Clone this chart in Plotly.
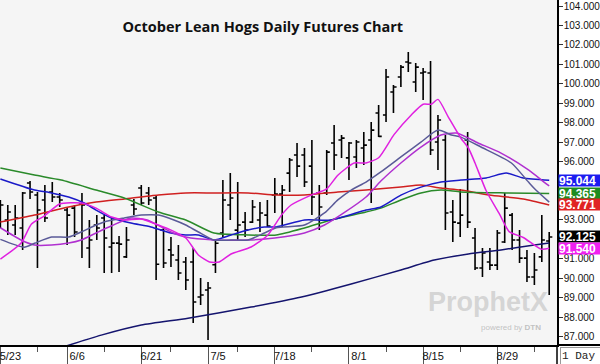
import plotly.graph_objects as go

# ---- data -------------------------------------------------------------
day_index = list(range(75))
opens = [93.25, 93.00, 92.74, 92.59, 94.90, 94.28, 94.03, 94.44, 94.18, 93.51,
         93.61, 93.82, 91.56, 92.74, 93.10, 91.61, 91.81, 91.10, 93.77, 94.64,
         94.39, 94.13, 92.48, 91.46, 90.94, 90.84, 90.84, 89.04, 89.40, 90.70,
         92.33, 93.77, 92.48, 92.89, 92.89, 93.00, 93.25, 94.28, 94.33, 95.41,
         96.34, 96.34, 95.77, 94.39, 94.39, 96.96, 97.11, 96.19, 96.24, 96.70,
         97.11, 98.50, 98.40, 99.58, 100.35, 101.12, 100.09, 100.56, 100.56, 97.01,
         97.11, 93.41, 92.84, 97.11, 92.07, 90.53, 90.84, 90.68, 91.87, 93.25,
         91.97, 91.04, 90.07, 91.10, 91.92]
highs = [94.03, 93.77, 93.77, 94.44, 95.00, 94.44, 94.80, 94.95, 94.39, 93.67,
         93.77, 94.39, 93.00, 93.25, 93.25, 93.15, 92.17, 92.64, 94.08, 94.80,
         94.69, 94.28, 92.64, 92.12, 91.71, 91.10, 91.56, 90.02, 89.81, 91.97,
         95.05, 95.41, 94.95, 93.41, 94.03, 93.92, 94.03, 95.16, 94.80, 96.19,
         96.96, 96.70, 97.11, 94.80, 96.60, 97.88, 97.37, 97.01, 97.11, 97.52,
         98.04, 98.91, 100.76, 99.94, 100.97, 101.63, 101.07, 100.81, 101.17, 98.40,
         97.37, 94.03, 94.59, 97.52, 92.59, 91.56, 91.56, 92.48, 94.39, 93.36,
         92.48, 91.46, 91.30, 93.25, 92.38]
lows = [92.59, 92.23, 92.23, 91.46, 94.08, 90.53, 92.89, 93.92, 93.67, 91.71,
        92.12, 91.04, 90.53, 91.97, 90.27, 90.27, 90.32, 91.04, 93.25, 93.77,
        93.77, 89.91, 90.53, 90.58, 89.91, 89.40, 87.70, 88.63, 86.83, 90.27,
        92.12, 93.00, 91.97, 92.12, 92.84, 92.38, 92.64, 93.36, 92.64, 94.44,
        95.21, 94.69, 93.25, 92.48, 94.28, 95.57, 96.19, 95.05, 95.67, 95.83,
        93.87, 97.26, 98.04, 98.50, 99.84, 100.61, 99.58, 99.17, 96.34, 95.57,
        92.48, 91.87, 92.12, 92.59, 90.43, 90.07, 90.43, 90.43, 91.81, 91.46,
        90.79, 89.81, 89.66, 90.84, 89.14]
closes = [93.77, 93.41, 93.10, 94.39, 94.44, 93.51, 93.10, 94.18, 94.03, 93.25,
          92.38, 93.77, 91.97, 92.59, 92.07, 91.81, 91.76, 91.97, 93.56, 93.87,
          94.03, 90.72, 90.79, 91.20, 90.27, 89.91, 88.78, 89.14, 89.50, 91.80,
          94.03, 94.13, 92.74, 92.48, 93.67, 93.36, 92.69, 94.33, 94.54, 96.08,
          95.77, 94.95, 94.18, 93.67, 96.49, 96.34, 97.21, 96.96, 97.01, 96.85,
          97.62, 97.30, 100.35, 99.84, 100.86, 101.07, 100.86, 100.61, 96.60, 98.14,
          93.36, 92.89, 93.25, 92.89, 90.53, 91.30, 90.68, 92.33, 93.61, 91.97,
          91.04, 90.07, 90.43, 91.97, 92.125]

date_tick_index = [0, 9, 19, 28, 37, 47, 57, 67]
date_tick_labels = ["5/23", "6/6", "6/21", "7/5", "7/18", "8/1", "8/15", "8/29"]
week_tick_index = [5, 14, 23, 32, 42, 52, 62, 72]

# price labels visible on the axis (95, 94, 92 are hidden behind value boxes)
price_ticks = [87, 88, 89, 90, 91, 93, 96, 97, 98, 99, 100, 101, 102, 103, 104]
price_tick_labels = ["%.3f" % v for v in price_ticks]

# moving-average lines (x = trading-day index)
fast_x = [0, 2.8, 4.2, 5.9, 8, 10.9, 12.9, 15, 16.7, 19, 21.3, 23, 25, 26.7, 28.2, 29.5,
          31.1, 33.8, 36, 37.9, 39.2, 41.9, 44, 45.5, 47.7, 49.3, 51, 53.1, 55.4, 57,
          58.1, 59, 60.4, 62.1, 63.1, 64, 65.5, 67.3, 68.6, 70.5, 72.9, 74]
fast_y = [90.99, 91.82, 92.79, 93.2, 93.82, 93.87, 93.61, 93.15, 93.0, 93.05, 92.74,
          92.48, 92.07, 91.2, 90.84, 90.84, 91.25, 91.61, 92.2, 93.25, 93.77, 94.28,
          94.6, 95.3, 95.93, 95.93, 96.2, 97.4, 98.4, 98.95, 98.95, 99.2, 98.29, 97.2,
          96.7, 95.93, 94.5, 93.3, 92.4, 92.1, 91.5, 91.54]
slate_x = [0, 3.2, 4.6, 6.9, 9.2, 10.9, 12.9, 14, 16.7, 19, 21.3, 23.4, 25, 26.7, 28.8,
           31.1, 33.4, 35.6, 37.2, 41, 43.7, 45.5, 47.3, 49.3, 51.3, 54, 56.7, 59, 60.8,
           62.1, 64.8, 68.9, 71.2, 72.2, 74]
slate_y = [92.0, 91.6, 91.8, 92.12, 92.12, 92.38, 92.74, 92.9, 93.1, 93.25, 93.25, 93.0,
           92.74, 92.38, 91.97, 91.97, 91.97, 92.33, 92.6, 92.74, 93.36, 94.03, 94.54,
           94.95, 95.47, 96.24, 97.0, 97.62, 97.37, 97.26, 96.75, 95.93, 94.95, 94.54, 93.92]
purple_x = [0, 2.8, 4.6, 6.9, 9.2, 10.9, 12.9, 15, 17.6, 19.8, 23, 25, 28.8, 33.4, 37,
            41, 43.7, 46.3, 49.3, 51.3, 54, 56.7, 59.4, 61.5, 64.4, 67.5, 71.2, 73.3, 74]
purple_y = [92.6, 91.97, 91.71, 91.71, 91.81, 91.97, 92.33, 92.7, 93.1, 93.0, 92.38,
            92.12, 91.97, 91.97, 92.07, 92.33, 92.74, 93.36, 94.18, 95.0, 95.93, 96.75,
            97.37, 97.47, 96.96, 96.44, 95.57, 94.95, 94.75]
blue_x = [0, 4.6, 6.9, 9.2, 11.3, 12.9, 15, 17.6, 20.3, 23, 25, 26.7, 28.8, 31.1, 33.4,
          35.6, 37.2, 41, 44.6, 49.3, 51.3, 54, 56.7, 59.4, 62.1, 65.5, 68.2, 70.5, 74]
blue_y = [95.11, 94.54, 94.39, 94.18, 93.87, 93.51, 93.10, 92.84, 92.64, 92.33, 92.23,
          92.23, 91.97, 92.23, 92.48, 92.64, 92.64, 93.0, 93.0, 93.51, 93.67, 94.28,
          94.69, 94.95, 95.05, 95.16, 95.41, 95.16, 95.044]
green_x = [0, 4.6, 8.2, 12.9, 16.7, 21.3, 25, 28.8, 33.4, 37.2, 41, 44.6, 49.3, 51.3,
           54, 56.7, 59.4, 62.1, 68.2, 74]
green_y = [95.67, 95.31, 95.05, 94.54, 94.13, 93.41, 93.0, 92.33, 92.23, 92.23, 92.59,
           93.0, 93.41, 93.61, 94.03, 94.39, 94.54, 94.44, 94.39, 94.365]
red_x = [0, 4.6, 9.2, 12.9, 16.7, 21.3, 25, 28.8, 33.4, 37.2, 41, 45.5, 49.3, 54, 56.7,
         59.4, 62.1, 65.9, 70.5, 74]
red_y = [92.89, 93.25, 93.67, 93.92, 94.08, 94.28, 94.39, 94.39, 94.39, 94.28, 94.28,
         94.44, 94.54, 94.69, 94.8, 94.64, 94.54, 94.28, 94.08, 93.771]
navy_x = [8.3, 13.6, 19, 25.3, 33.8, 40.6, 47.3, 54, 58.5, 63.1, 67.5, 72, 74]
navy_y = [86.45, 87.08, 87.6, 87.95, 88.52, 89.04, 89.71, 90.43, 90.94, 91.25, 91.46,
          91.71, 91.81]

last_values = [95.044, 94.365, 93.771, 92.125, 91.540]
last_colors = ["#1c1cf0", "#1e8c1e", "#e02424", "#000000", "#f020f0"]

# ---- figure -----------------------------------------------------------
fig = go.Figure()

lines = [
    (navy_x, navy_y, "#14146e"),
    (red_x, red_y, "#d02020"),
    (green_x, green_y, "#2a8a2a"),
    (blue_x, blue_y, "#1a1ac8"),
    (purple_x, purple_y, "#b030d0"),
    (slate_x, slate_y, "#5a5a98"),
    (fast_x, fast_y, "#e020e0"),
]
for xs, ys, col in lines:
    fig.add_trace(go.Scatter(x=xs, y=ys, mode="lines",
                             line=dict(color=col, width=1.5, shape="spline", smoothing=0.6),
                             hoverinfo="skip", showlegend=False))

fig.add_trace(go.Ohlc(x=day_index, open=opens, high=highs, low=lows, close=closes,
                      increasing=dict(line=dict(color="black", width=1.6)),
                      decreasing=dict(line=dict(color="black", width=1.6)),
                      tickwidth=0.42, hoverinfo="skip", showlegend=False))

fig.update_layout(
    width=600, height=364,
    margin=dict(l=0, r=43, t=0, b=19),
    paper_bgcolor="white",
    plot_bgcolor="#f5f5f5",
    showlegend=False,
    font=dict(family="Liberation Sans, Arial, sans-serif", color="#111111"),
    title=dict(text="<b>October Lean Hogs Daily Futures Chart</b>",
               x=0.438, xanchor="center", y=0.926, yanchor="middle",
               font=dict(family="Open Sans, sans-serif", size=14.5, color="#111111")),
)

fig.update_xaxes(
    automargin=False,
    range=[-0.05, 75.05], rangeslider=dict(visible=False),
    showgrid=False, zeroline=False,
    showline=True, linecolor="black", linewidth=2,
    tickmode="array", tickvals=date_tick_index, ticktext=date_tick_labels,
    ticks="outside", ticklen=19, tickwidth=1, tickcolor="#555555",
    ticklabelshift=10, ticklabelstandoff=-19, ticklabeloverflow="allow",
    tickfont=dict(size=11, color="#111111"),
    minor=dict(tickmode="array", tickvals=week_tick_index, ticks="outside",
               ticklen=5, tickwidth=1, tickcolor="#555555", showgrid=False),
)
fig.update_yaxes(
    automargin=False,
    side="right", range=[86.571, 104.31],
    showgrid=False, zeroline=False,
    showline=True, linecolor="black", linewidth=1.5,
    tickmode="array", tickvals=price_ticks, ticktext=price_tick_labels,
    ticks="outside", ticklen=4, tickcolor="#333333",
    ticklabeloverflow="allow", ticklabelstandoff=-1,
    tickfont=dict(size=10, color="#111111"),
)

for v, c in zip(last_values, last_colors):
    fig.add_annotation(x=1, xref="paper", y=v, yref="y", xanchor="left", yanchor="middle",
                       xshift=1, text="<b>%.3f</b>" % v, showarrow=False,
                       bgcolor=c, width=44, height=11, borderpad=0, align="left",
                       font=dict(size=12, color="white", family="Liberation Sans, Arial"))

# "1 Day" box and watermark
fig.add_annotation(x=1, xref="paper", y=0, yref="paper", xanchor="left", yanchor="top",
                   xshift=3, yshift=-2, text="1 Day", showarrow=False,
                   bgcolor="white", bordercolor="#999999", borderwidth=1, borderpad=1,
                   width=40, height=14, align="left",
                   font=dict(family="Liberation Mono, DejaVu Sans Mono, monospace", size=11, color="#222222"))
fig.add_annotation(x=0.876, xref="paper", y=0.125, yref="paper", xanchor="center", yanchor="middle",
                   text="<b>ProphetX</b>", showarrow=False,
                   font=dict(size=27, color="rgba(185,185,185,0.55)", family="Liberation Sans, Arial"))
fig.add_annotation(x=0.918, xref="paper", y=0.05, yref="paper", xanchor="center", yanchor="middle",
                   text="powered by <b>DTN</b>", showarrow=False,
                   font=dict(size=8, color="rgba(170,170,170,0.7)", family="Liberation Sans, Arial"))

# axis frame extensions into the margins
fig.add_shape(type="line", xref="paper", yref="paper", x0=1, x1=1, y0=0, y1=-0.06,
              line=dict(color="black", width=1.5))
fig.add_shape(type="line", xref="paper", yref="paper", x0=1, x1=1.08, y0=0, y1=0,
              line=dict(color="black", width=2))

fig.write_html("out.html", config={"displayModeBar": False},
               post_script="document.body.style.margin='0';document.body.style.padding='0';")
